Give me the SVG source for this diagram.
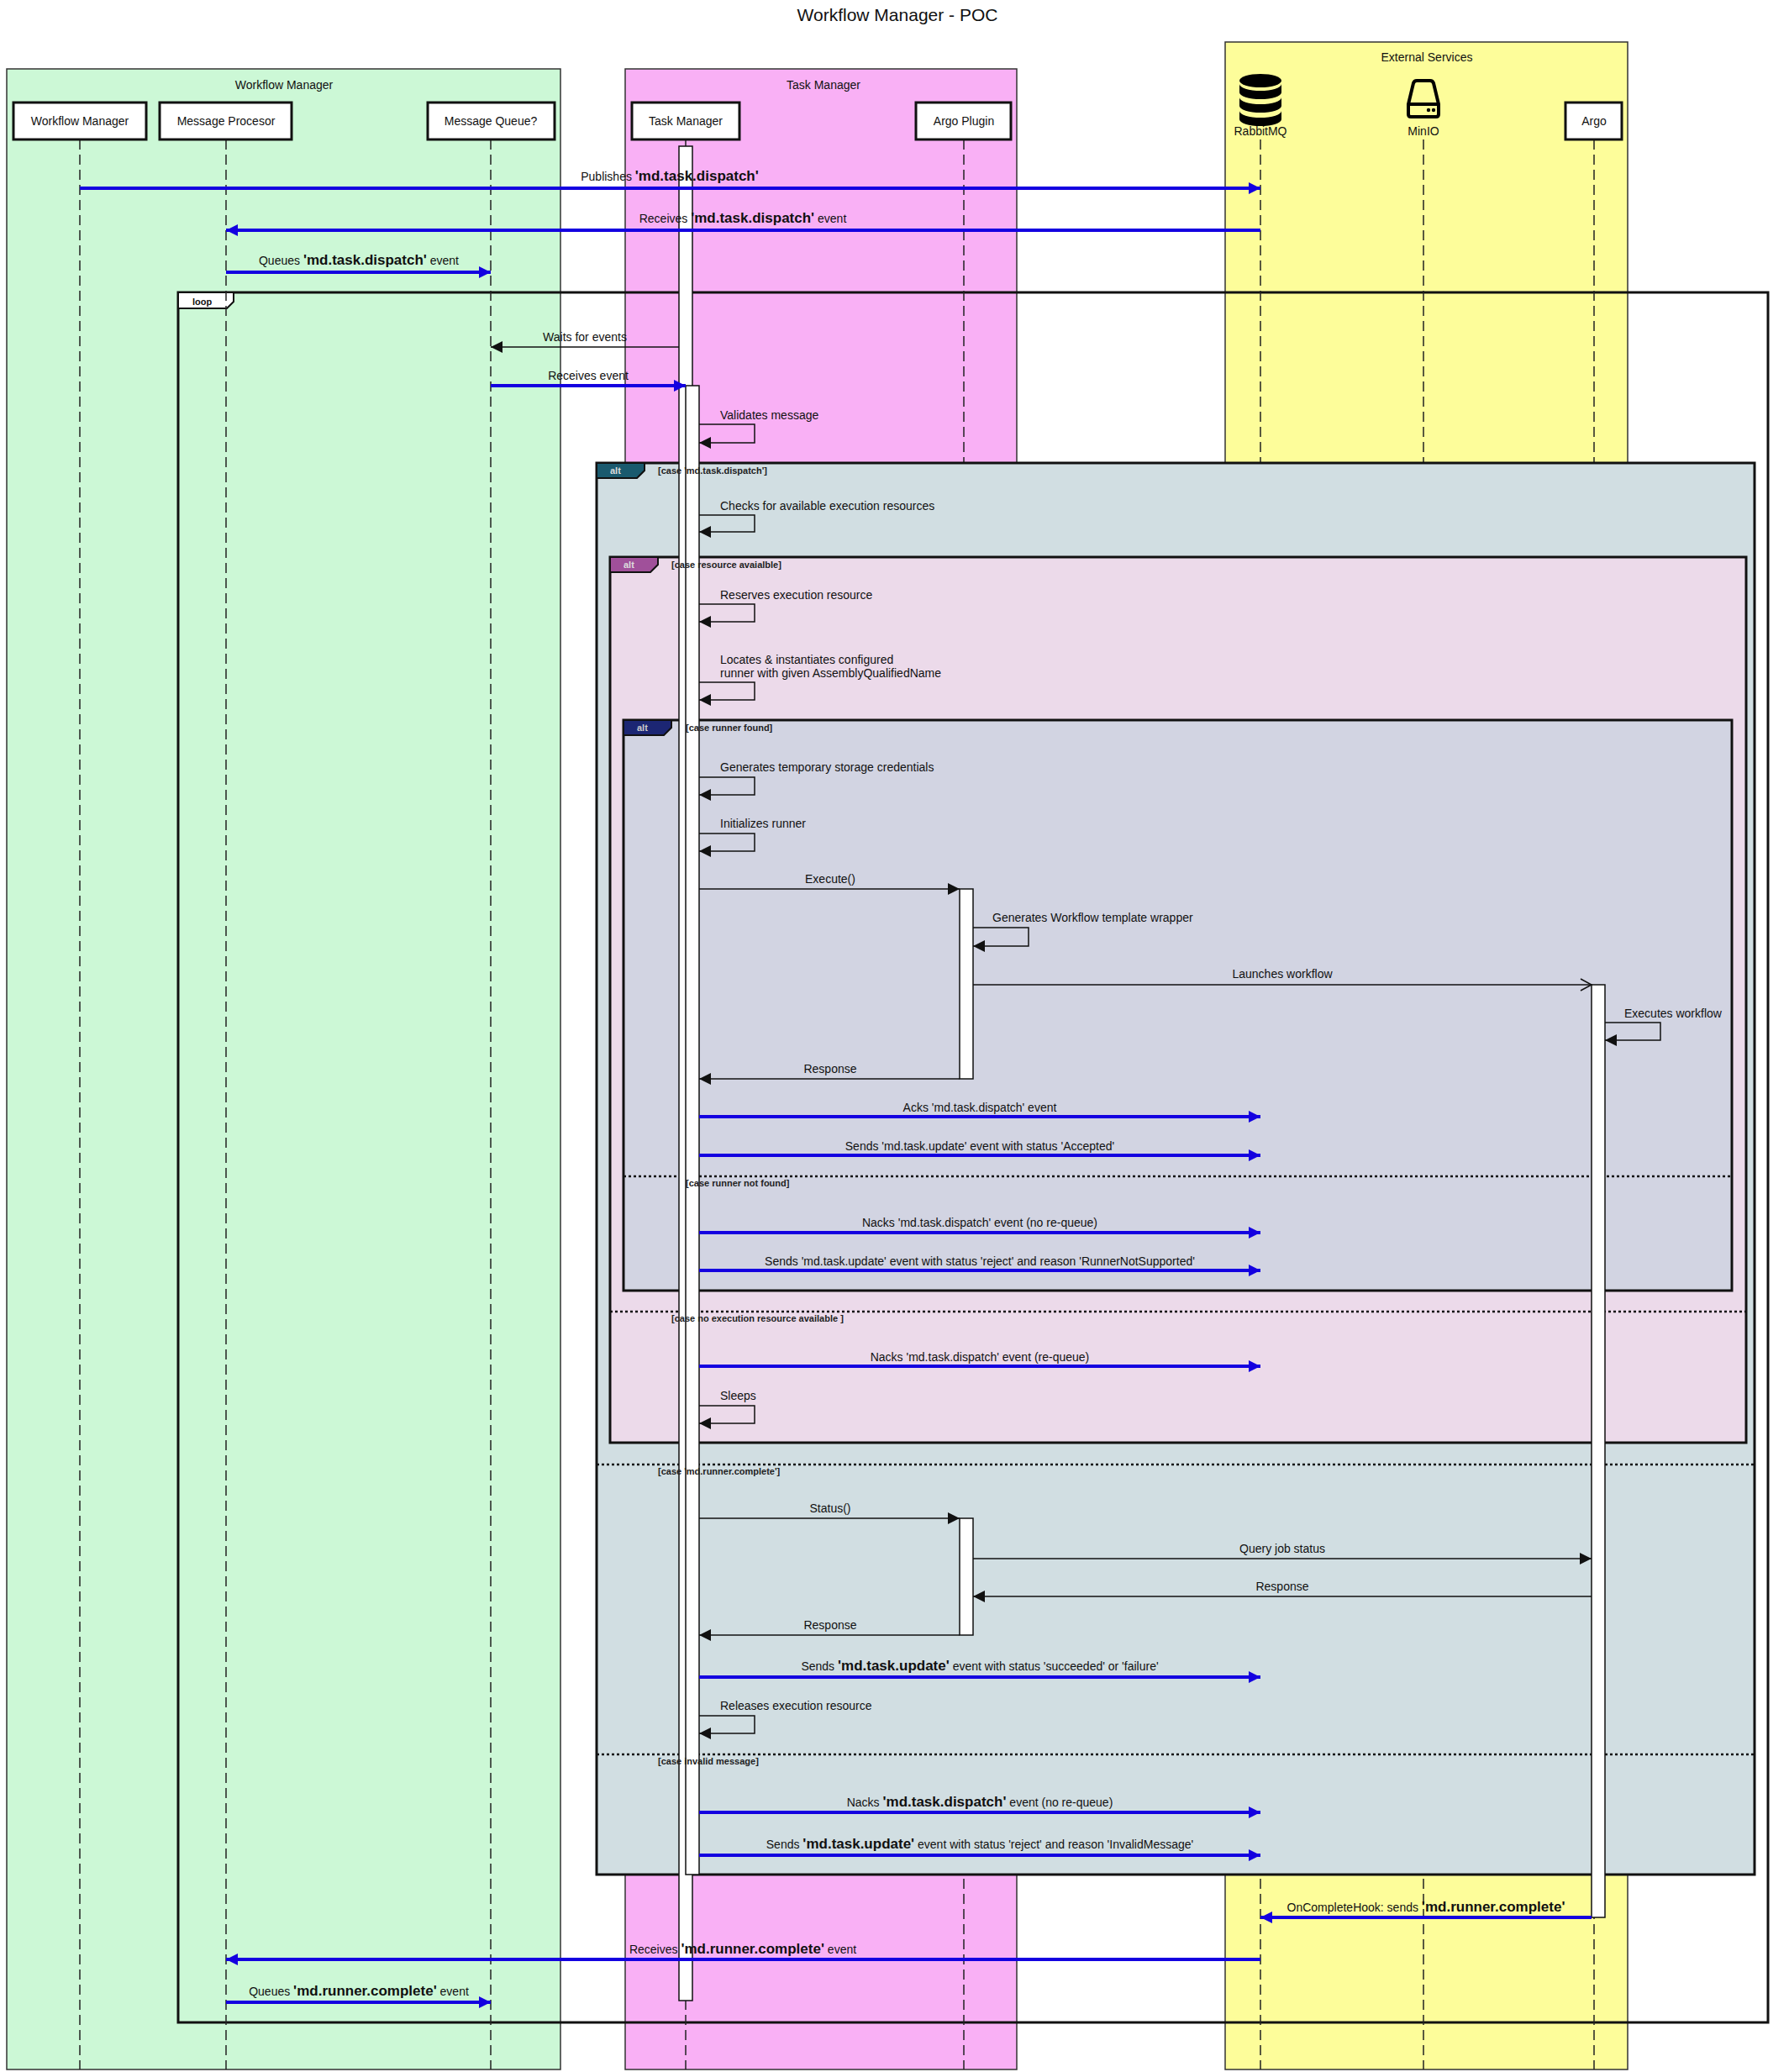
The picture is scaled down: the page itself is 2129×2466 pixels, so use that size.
<svg xmlns="http://www.w3.org/2000/svg" width="2129" height="2466" viewBox="0 0 2129 2466">
<style>
text{font-family:"Liberation Sans",Arial,sans-serif;fill:#111}
.t{font-size:14px;text-anchor:middle}
.s{font-size:14px}
.b{font-weight:bold;font-size:17px}
.c{font-size:11px;font-weight:bold;fill:#222}
.ll{stroke:#222;stroke-width:1.5;stroke-dasharray:12 6;fill:none}
.box{fill:#fff;stroke:#111;stroke-width:3}
.act{fill:#fff;stroke:#111;stroke-width:1.5}
.blue{stroke:#1400e0;stroke-width:4;fill:none;marker-end:url(#ba)}
.blk{stroke:#111;stroke-width:1.5;fill:none;marker-end:url(#ka)}
.self{stroke:#111;stroke-width:1.5;fill:none;marker-end:url(#ka)}
.frame{stroke:#111;stroke-width:3}
.dot{stroke:#111;stroke-width:2.5;stroke-dasharray:3 3}
</style>
<defs>
<marker id="ba" markerUnits="userSpaceOnUse" markerWidth="16" markerHeight="16" refX="14" refY="8" orient="auto"><path d="M0,1 L14,8 L0,15 Z" fill="#1400e0"/></marker>
<marker id="ka" markerUnits="userSpaceOnUse" markerWidth="16" markerHeight="16" refX="14" refY="8" orient="auto"><path d="M0,1 L14,8 L0,15 Z" fill="#111"/></marker>
<marker id="oa" markerUnits="userSpaceOnUse" markerWidth="16" markerHeight="16" refX="14" refY="8" orient="auto"><path d="M1,1 L14,8 L1,15" fill="none" stroke="#111" stroke-width="1.5"/></marker>
</defs>
<rect width="2129" height="2466" fill="#fff"/>
<text x="1068" y="25" style="font-size:21px;text-anchor:middle">Workflow Manager - POC</text>

<g id="lanes">
<rect x="8" y="82" width="659" height="2381" fill="#CCF8D6" stroke="#333" stroke-width="1.5"/>
<text x="338" y="106" class="t">Workflow Manager</text>
<rect x="744" y="82" width="466" height="2381" fill="#F9B0F5" stroke="#333" stroke-width="1.5"/>
<text x="980" y="106" class="t">Task Manager</text>
<rect x="1458" y="50" width="479" height="2413" fill="#FDFD9A" stroke="#333" stroke-width="1.5"/>
<text x="1698" y="73" class="t">External Services</text>
</g>

<g id="loop-frame">
<rect x="212" y="348" width="1892" height="2059" fill="none" class="frame"/>
<path d="M212,348 H278 V359 L270,367 H212 Z" fill="#fff" stroke="#111" stroke-width="2"/>
<text x="229" y="363" style="font-size:11px;font-weight:bold">loop</text>
</g>

<g id="lifelines">
<line x1="95" y1="166" x2="95" y2="2463" class="ll"/>
<line x1="269" y1="166" x2="269" y2="2463" class="ll"/>
<line x1="584" y1="166" x2="584" y2="2463" class="ll"/>
<line x1="816" y1="166" x2="816" y2="2463" class="ll"/>
<line x1="1147" y1="166" x2="1147" y2="2463" class="ll"/>
<line x1="1500" y1="166" x2="1500" y2="2463" class="ll"/>
<line x1="1694" y1="166" x2="1694" y2="2463" class="ll"/>
<line x1="1897" y1="166" x2="1897" y2="2463" class="ll"/>
</g>

<g id="alt-frames">
<rect x="710" y="551" width="1378" height="1680" fill="#D1DEE2" class="frame"/>
<path d="M710,551 H767 V560 L758,569 H710 Z" fill="#1a5a6e" stroke="#111" stroke-width="2"/>
<text x="726" y="564" style="font-size:11px;font-weight:bold;fill:#ddd">alt</text>
<rect x="726" y="663" width="1352" height="1054" fill="#ECDAEA" class="frame"/>
<path d="M726,663 H783 V672 L774,681 H726 Z" fill="#a0509a" stroke="#111" stroke-width="2"/>
<text x="742" y="676" style="font-size:11px;font-weight:bold;fill:#ddd">alt</text>
<rect x="742" y="857" width="1319" height="679" fill="#D2D4E2" class="frame"/>
<path d="M742,857 H799 V866 L790,875 H742 Z" fill="#1c2673" stroke="#111" stroke-width="2"/>
<text x="758" y="870" style="font-size:11px;font-weight:bold;fill:#ccc">alt</text>
<line x1="742" y1="1400" x2="2061" y2="1400" class="dot"/>
<line x1="726" y1="1561" x2="2078" y2="1561" class="dot"/>
<line x1="710" y1="1743" x2="2088" y2="1743" class="dot"/>
<line x1="710" y1="2088" x2="2088" y2="2088" class="dot"/>
</g>

<g id="activations">
<rect x="808" y="174" width="16" height="2207" class="act"/>
<rect x="816" y="459" width="16" height="1772" class="act"/>
<rect x="1142" y="1058" width="16" height="226" class="act"/>
<rect x="1142" y="1807" width="16" height="139" class="act"/>
<rect x="1894" y="1172" width="16" height="1110" class="act"/>
</g>

<g id="case-labels">
<text x="783" y="564" class="c">[case 'md.task.dispatch']</text>
<text x="799" y="676" class="c">[case resource avaialble]</text>
<text x="816" y="870" class="c">[case runner found]</text>
<text x="816" y="1412" class="c">[case runner not found]</text>
<text x="799" y="1573" class="c">[case no execution resource available ]</text>
<text x="783" y="1755" class="c">[case 'md.runner.complete']</text>
<text x="783" y="2100" class="c">[case invalid message]</text>
</g>

<g id="p-workflow-manager"><rect x="16" y="122" width="158" height="44" class="box"/><text x="95" y="149" class="t">Workflow Manager</text></g>
<g id="p-message-procesor"><rect x="190" y="122" width="157" height="44" class="box"/><text x="269" y="149" class="t">Message Procesor</text></g>
<g id="p-message-queue"><rect x="509" y="122" width="151" height="44" class="box"/><text x="584" y="149" class="t">Message Queue?</text></g>
<g id="p-task-manager"><rect x="752" y="122" width="128" height="44" class="box"/><text x="816" y="149" class="t">Task Manager</text></g>
<g id="p-argo-plugin"><rect x="1090" y="122" width="113" height="44" class="box"/><text x="1147" y="149" class="t">Argo Plugin</text></g>
<g id="p-argo"><rect x="1863" y="122" width="67" height="44" class="box"/><text x="1897" y="149" class="t">Argo</text></g>
<g id="p-rabbitmq">
<ellipse cx="1500" cy="96" rx="25" ry="8" fill="#000"/>
<path d="M1475,100 v10 a25,8 0 0 0 50,0 v-10 a25,8 0 0 1 -50,0 Z" fill="#000"/>
<path d="M1475,116 v10 a25,8 0 0 0 50,0 v-10 a25,8 0 0 1 -50,0 Z" fill="#000"/>
<path d="M1475,132 v10 a25,8 0 0 0 50,0 v-10 a25,8 0 0 1 -50,0 Z" fill="#000"/>
<text x="1500" y="161" class="t">RabbitMQ</text>
</g>
<g id="p-minio">
<path d="M1676,124 L1682,99 Q1683,96 1686,96 H1702 Q1705,96 1706,99 L1712,124 V136 Q1712,139 1709,139 H1679 Q1676,139 1676,136 Z M1676,124 H1712" fill="none" stroke="#000" stroke-width="4" stroke-linejoin="round"/>
<circle cx="1700" cy="131" r="2.2" fill="#000"/><circle cx="1706" cy="131" r="2.2" fill="#000"/>
<text x="1694" y="161" class="t">MinIO</text>
</g>

<g id="connectors">
<line x1="95" y1="224" x2="1500" y2="224" class="blue"/>
<text x="797" y="215" class="t">Publishes <tspan class="b">'md.task.dispatch'</tspan></text>
<line x1="1500" y1="274" x2="269" y2="274" class="blue"/>
<text x="884" y="265" class="t">Receives <tspan class="b">'md.task.dispatch'</tspan> event</text>
<line x1="269" y1="324" x2="584" y2="324" class="blue"/>
<text x="427" y="315" class="t">Queues <tspan class="b">'md.task.dispatch'</tspan> event</text>

<line x1="808" y1="413" x2="584" y2="413" class="blk"/>
<text x="696" y="406" class="t">Waits for events</text>
<line x1="584" y1="459" x2="816" y2="459" class="blue"/>
<text x="700" y="452" class="t">Receives event</text>
<path d="M832,505 H898 V527 H832" class="self"/>
<text x="857" y="499" class="s">Validates message</text>

<path d="M832,613 H898 V633 H832" class="self"/>
<text x="857" y="607" class="s">Checks for available execution resources</text>
<path d="M832,719 H898 V740 H832" class="self"/>
<text x="857" y="713" class="s">Reserves execution resource</text>
<path d="M832,812 H898 V833 H832" class="self"/>
<text x="857" y="790" class="s">Locates &amp; instantiates configured</text>
<text x="857" y="806" class="s">runner with given AssemblyQualifiedName</text>

<path d="M832,925 H898 V946 H832" class="self"/>
<text x="857" y="918" class="s">Generates temporary storage credentials</text>
<path d="M832,992 H898 V1013 H832" class="self"/>
<text x="857" y="985" class="s">Initializes runner</text>
<line x1="832" y1="1058" x2="1142" y2="1058" class="blk"/>
<text x="988" y="1051" class="t">Execute()</text>
<path d="M1158,1104 H1224 V1126 H1158" class="self"/>
<text x="1181" y="1097" class="s">Generates Workflow template wrapper</text>
<line x1="1158" y1="1172" x2="1894" y2="1172" stroke="#111" stroke-width="1.5" marker-end="url(#oa)"/>
<text x="1526" y="1164" class="t">Launches workflow</text>
<path d="M1910,1217 H1976 V1238 H1910" class="self"/>
<text x="1933" y="1211" class="s">Executes workflow</text>
<line x1="1142" y1="1284" x2="832" y2="1284" class="blk"/>
<text x="988" y="1277" class="t">Response</text>
<line x1="832" y1="1329" x2="1500" y2="1329" class="blue"/>
<text x="1166" y="1323" class="t">Acks 'md.task.dispatch' event</text>
<line x1="832" y1="1375" x2="1500" y2="1375" class="blue"/>
<text x="1166" y="1369" class="t">Sends 'md.task.update' event with status 'Accepted'</text>
<line x1="832" y1="1467" x2="1500" y2="1467" class="blue"/>
<text x="1166" y="1460" class="t">Nacks 'md.task.dispatch' event (no re-queue)</text>
<line x1="832" y1="1512" x2="1500" y2="1512" class="blue"/>
<text x="1166" y="1506" class="t">Sends 'md.task.update' event with status 'reject' and reason 'RunnerNotSupported'</text>

<line x1="832" y1="1626" x2="1500" y2="1626" class="blue"/>
<text x="1166" y="1620" class="t">Nacks 'md.task.dispatch' event (re-queue)</text>
<path d="M832,1673 H898 V1694 H832" class="self"/>
<text x="857" y="1666" class="s">Sleeps</text>

<line x1="832" y1="1807" x2="1142" y2="1807" class="blk"/>
<text x="988" y="1800" class="t">Status()</text>
<line x1="1158" y1="1855" x2="1894" y2="1855" class="blk"/>
<text x="1526" y="1848" class="t">Query job status</text>
<line x1="1894" y1="1900" x2="1158" y2="1900" class="blk"/>
<text x="1526" y="1893" class="t">Response</text>
<line x1="1142" y1="1946" x2="832" y2="1946" class="blk"/>
<text x="988" y="1939" class="t">Response</text>
<line x1="832" y1="1996" x2="1500" y2="1996" class="blue"/>
<text x="1166" y="1988" class="t">Sends <tspan class="b">'md.task.update'</tspan> event with status 'succeeded' or 'failure'</text>
<path d="M832,2042 H898 V2063 H832" class="self"/>
<text x="857" y="2035" class="s">Releases execution resource</text>

<line x1="832" y1="2157" x2="1500" y2="2157" class="blue"/>
<text x="1166" y="2150" class="t">Nacks <tspan class="b">'md.task.dispatch'</tspan> event (no re-queue)</text>
<line x1="832" y1="2208" x2="1500" y2="2208" class="blue"/>
<text x="1166" y="2200" class="t">Sends <tspan class="b">'md.task.update'</tspan> event with status 'reject' and reason 'InvalidMessage'</text>

<line x1="1894" y1="2282" x2="1500" y2="2282" class="blue"/>
<text x="1697" y="2275" class="t">OnCompleteHook: sends <tspan class="b">'md.runner.complete'</tspan></text>
<line x1="1500" y1="2332" x2="269" y2="2332" class="blue"/>
<text x="884" y="2325" class="t">Receives <tspan class="b">'md.runner.complete'</tspan> event</text>
<line x1="269" y1="2383" x2="584" y2="2383" class="blue"/>
<text x="427" y="2375" class="t">Queues <tspan class="b">'md.runner.complete'</tspan> event</text>
</g>
</svg>
